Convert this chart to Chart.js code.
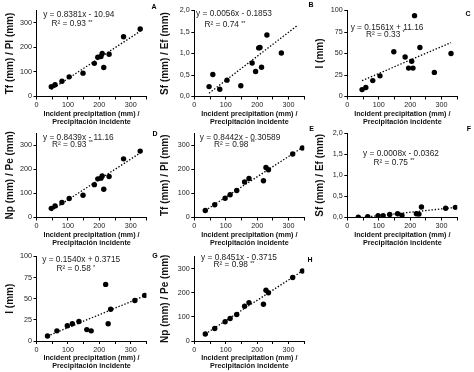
<!DOCTYPE html>
<html><head><meta charset="utf-8">
<script src="https://cdn.jsdelivr.net/npm/chart.js@4.4.1/dist/chart.umd.min.js"></script>
<style>
html,body{margin:0;padding:0;background:#fff;overflow:hidden;width:474px;height:372px;position:relative;}
canvas{position:absolute;}
</style></head><body>
<script>
// ---------- DATA ----------
const incidentSet1 = [47, 59, 81, 104, 148, 184, 195, 205, 209, 214, 231, 277, 330];
const incidentSet2 = [35, 65, 98, 114, 135, 160, 174, 220, 228, 236, 313, 344];

const throughfallA = [40, 48, 62, 80, 95, 135, 160, 163, 175, 118, 172, 243, 275];
const stemflowB    = [0.23, 0.51, 0.17, 0.38, 0.25, 0.78, 0.58, 1.13, 1.14, 0.68, 1.43, 1.01, null];
const interceptC   = [8, 10.5, 18.5, 24, 52, 46, 33, 41, 33, 94, 57, 28, 50];
const netPrecipD   = [38, 48, 62, 79, 92, 136, 160, 163, 172, 117, 170, 243, 275];
const throughfallE = [29, 53, 80, 94, 112, 147, 162, 152, 207, 198, 263, 288];
const stemflowF    = [0.01, 0.02, 0.04, 0.04, 0.07, 0.09, 0.05, 0.09, 0.08, 0.25, 0.22, 0.24];
const interceptG   = [6, 12, 18, 20.5, 23, 13.5, 12, 67, 20.5, 37.5, 48, 54];
const netPrecipH   = [29, 52, 80, 93, 110, 144, 159, 152, 210, 200, 263, 290];

const slopes     = [0.8381, 0.0056, 0.1561, 0.8439, 0.8442, 0.0008, 0.1540, 0.8451];
const intercepts = [-10.94, -0.1853, 11.16, -11.16, -0.30589, -0.0362, 0.3715, -0.3715];
const equations  = ['y = 0.8381x - 10.94', 'y = 0.0056x - 0.1853', 'y = 0.1561x + 11.16', 'y = 0.8439x - 11.16',
                    'y = 0.8442x - 0.30589', 'y = 0.0008x - 0.0362', 'y = 0.1540x + 0.3715', 'y = 0.8451x - 0.3715'];
const r2Labels   = ['R² = 0.93', 'R² = 0.74', 'R² = 0.33', 'R² = 0.93', 'R² = 0.98', 'R² = 0.75', 'R² = 0.58', 'R² = 0.98'];
const r2Stars    = ['**', '**', '*', '**', '**', '**', '*', '**'];
const panelLetters = ['A', 'B', 'C', 'D', 'E', 'F', 'G', 'H'];
const yTitles    = ['Tf (mm) / PI (mm)', 'Sf (mm) / Ef (mm)', 'I (mm)', 'Np (mm) / Pe (mm)',
                    'Tf (mm) / PI (mm)', 'Sf (mm) / Ef (mm)', 'I (mm)', 'Np (mm) / Pe (mm)'];
const xTitle     = ['Incident precipitation (mm) /', 'Precipitación incidente'];
const xTickValues = [0, 100, 200, 300];
const yMaxes     = [350, 2, 100, 350, 350, 2, 100, 350];
const ySteps     = [100, 0.5, 25, 100, 100, 0.5, 25, 100];
const xMax = 350;

// ---------- LAYOUT ----------
const FONT = '"Liberation Sans", Arial, sans-serif';
const colAxisX = [36.5, 194.3, 347.3];
const colL = [0, 157, 312];
const CW = 160, PLOT_W = 110;
const rowTop = [10.5, 133, 256.5];
const rowBottom = [96.5, 217.5, 341];
const rowT = [0, 121, 245];
const rowH = [128, 128, 127];
const yTitleCenter = [10, 8, 8.7];
// text offsets (relative to chart area)
const eqPos = [[42.3,4.5],[39.7,2.8],[39.7,16.8],[41.8,4.3],[45.7,4.3],[53.7,20.3],[44.7,3.5],[44.7,0.8]];
const r2Pos = [[35.5,13.5],[30.7,14.5],[38,23.8],[36,11.3],[40.2,11.3],[46.7,29.7],[39.3,12.5],[39.7,8.5]];
const letterPos = [[7.5,-3.5],[6.7,-5.5],[10.7,3.5],[8.5,1],[7.4,-3.7],[11.7,-4],[8.5,-0.5],[5.7,3.5]];

const panelData = [
  [incidentSet1, throughfallA], [incidentSet1, stemflowB], [incidentSet1, interceptC],
  [incidentSet1, netPrecipD], [incidentSet2, throughfallE], [incidentSet2, stemflowF],
  [incidentSet2, interceptG], [incidentSet2, netPrecipH]
];

const textPlugin = {
  id: 'panelText',
  afterDatasetsDraw(chart, args, o) {
    const {ctx, chartArea: ca} = chart;
    const i = o.i;
    ctx.save();
    ctx.fillStyle = '#222';
    ctx.textBaseline = 'middle';
    ctx.font = '8.3px ' + FONT;
    ctx.textAlign = 'center';
    ctx.fillText(equations[i], ca.left + eqPos[i][0], ca.top + eqPos[i][1]);
    const main = r2Labels[i] + ' ';
    const w1 = ctx.measureText(main).width;
    ctx.font = '5.5px ' + FONT;
    const w2 = ctx.measureText(r2Stars[i]).width;
    const x0 = ca.left + r2Pos[i][0] - (w1 + w2) / 2;
    const y0 = ca.top + r2Pos[i][1];
    ctx.textAlign = 'left';
    ctx.font = '8.3px ' + FONT;
    ctx.fillText(main, x0, y0);
    ctx.font = '5.5px ' + FONT;
    ctx.fillText(r2Stars[i], x0 + w1, y0 - 2);
    ctx.font = 'bold 7px ' + FONT;
    ctx.textAlign = 'center';
    ctx.fillStyle = '#000';
    ctx.fillText(panelLetters[i], ca.right + letterPos[i][0], ca.top + letterPos[i][1]);
    ctx.restore();
  }
};

for (let i = 0; i < 8; i++) {
  const col = i % 3, row = Math.floor(i / 3);
  const L = colL[col], T = rowT[row], H = rowH[row];
  const axisX = colAxisX[col];
  const top = rowTop[row], bottom = rowBottom[row];
  const cv = document.createElement('canvas');
  cv.width = CW; cv.height = H;
  cv.style.left = L + 'px'; cv.style.top = T + 'px';
  cv.style.width = CW + 'px'; cv.style.height = H + 'px';
  document.body.appendChild(cv);

  const [xs, ys] = panelData[i];
  const pts = xs.map((x, k) => ({x: x, y: ys[k]})).filter(p => p.y !== null && p.y !== undefined);
  const xmin = Math.min(...xs), xmax = Math.max(...xs);
  const trend = [xmin, xmax].map(x => ({x: x, y: slopes[i] * x + intercepts[i]}));

  const yW = axisX - L;
  const xH = (T + H) - bottom;
  const xtSize = 7.2, xtLH = 7.8;
  const line2Y = bottom + 25.2;
  const xtPadBottom = (T + H) - line2Y - xtLH / 2;
  const ytSize = 10, yTitleLH = 11;
  const comma = (yMaxes[i] === 2);

  new Chart(cv, {
    type: 'scatter',
    data: {
      datasets: [
        {data: trend, showLine: true, borderColor: '#000', borderWidth: 1.3, borderDash: [1.4, 1.8],
         pointRadius: 0, fill: false, order: 2},
        {data: pts, backgroundColor: '#000', borderColor: '#000', pointRadius: 2.7, borderWidth: 0, order: 1}
      ]
    },
    options: {
      responsive: false, animation: false, devicePixelRatio: 1,
      layout: {padding: {left: 0, top: top - T, right: (L + CW) - (axisX + PLOT_W), bottom: 0}},
      plugins: {legend: {display: false}, tooltip: {enabled: false}, panelText: {i: i}},
      scales: {
        x: {
          type: 'linear', min: 0, max: xMax,
          ticks: {stepSize: 50, autoSkip: false, maxRotation: 0, includeBounds: false,
                  callback: v => xTickValues.includes(v) ? String(v) : '',
                  font: {family: FONT, size: 7.2}, color: '#222', padding: 1.5},
          grid: {drawOnChartArea: false, drawTicks: true, tickLength: 3, color: '#000', lineWidth: 1},
          border: {display: true, color: '#000', width: 1},
          title: {display: true, text: xTitle, color: '#111',
                  font: {family: FONT, size: xtSize, weight: 'bold', lineHeight: xtLH / xtSize},
                  padding: {top: 0, bottom: xtPadBottom}},
          afterFit: s => { s.height = xH; }
        },
        y: {
          type: 'linear', min: 0, max: yMaxes[i],
          ticks: {stepSize: ySteps[i], autoSkip: false, includeBounds: false,
                  callback: v => comma ? v.toFixed(1).replace('.', ',') : String(v),
                  font: {family: FONT, size: 7.2}, color: '#222', padding: 1.5},
          grid: {drawOnChartArea: false, drawTicks: true, tickLength: 3, color: '#000', lineWidth: 1},
          border: {display: true, color: '#000', width: 1},
          title: {display: true, text: yTitles[i], color: '#111',
                  font: {family: FONT, size: ytSize, weight: 'bold', lineHeight: yTitleLH / ytSize},
                  padding: {top: yTitleCenter[col] - yTitleLH / 2, bottom: 0}},
          afterFit: s => { s.width = yW; }
        }
      }
    },
    plugins: [textPlugin]
  });
}
</script>
</body></html>
